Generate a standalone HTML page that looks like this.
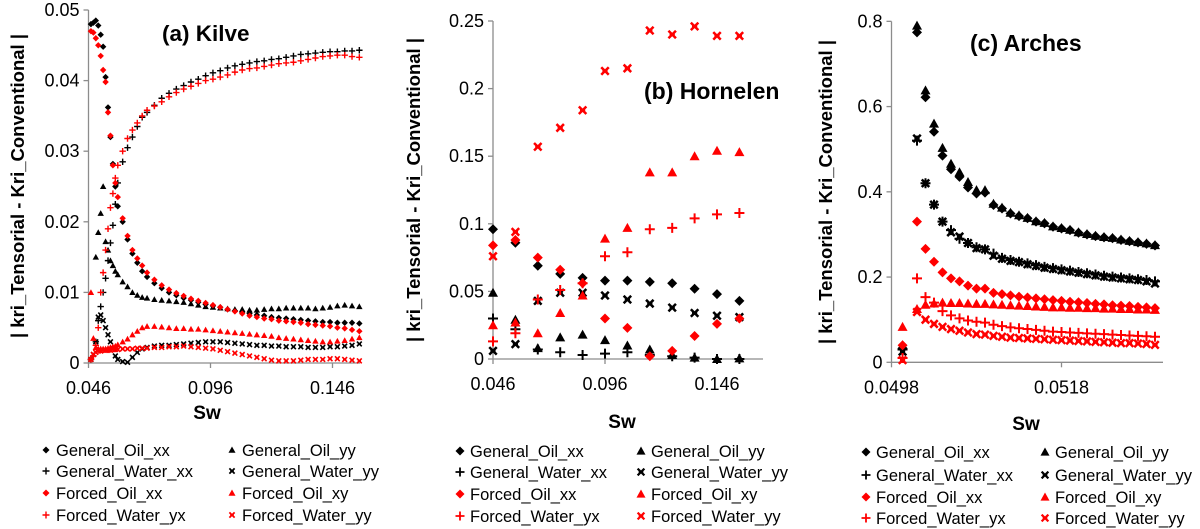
<!DOCTYPE html>
<html><head><meta charset="utf-8"><style>
html,body{margin:0;padding:0;background:#fff}
svg{display:block;font-family:"Liberation Sans",Arial,sans-serif}
</style></head><body>
<svg id="fig" width="1200" height="529" viewBox="0 0 1200 529" xmlns="http://www.w3.org/2000/svg">
<g id="pa"></g>
<g id="pb"></g>
<g id="pc"></g>
</svg>
<script>
// ---------- Panel (a) Kilve data ----------
const kilveSw = [0.047,0.048,0.049,0.050,0.051,0.052,0.053,0.054,0.055,0.056,0.057,0.058,0.060,0.062,0.064,0.066,0.068,0.070,0.073,0.076,0.079,0.082,0.085,0.088,0.091,0.094,0.097,0.100,0.103,0.106,0.109,0.112,0.115,0.118,0.121,0.124,0.127,0.130,0.133,0.136,0.139,0.142,0.145,0.148,0.151,0.154,0.157];
const kilveGOxx = [.048,.0482,.0485,.0478,.0465,.0448,.0405,.0362,.032,.0282,.025,.0222,.020,.0175,.0155,.0142,.013,.0122,.0113,.0106,.010,.0096,.0092,.0089,.0086,.0083,.0081,.0079,.0076,.0074,.0072,.007,.0068,.0067,.0065,.0064,.0063,.0062,.0061,.006,.0059,.0058,.0058,.0057,.0057,.0057,.0056];
const kilveGOyy = [null,null,.015,.0185,.0212,.025,.0172,.016,.0145,.0138,.013,.0125,.0115,.0108,.010,.0096,.0093,.0092,.009,.0089,.0088,.0087,.0086,.0084,.0082,.008,.0079,.0078,.0077,.0076,.0076,.0075,.0075,.0076,.0077,.0077,.0078,.0078,.0078,.0078,.0077,.0078,.0079,.0081,.0082,.0081,.008];
const kilveGWxx = [.0005,.001,.003,.006,.008,.010,.012,.0145,.017,.0195,.0225,.0255,.0285,.0305,.032,.0335,.0348,.0355,.0365,.0375,.0382,.0388,.0393,.0398,.0402,.0407,.0411,.0414,.0418,.0421,.0423,.0425,.0427,.0428,.043,.0431,.0433,.0435,.0437,.0438,.0439,.044,.0441,.0441,.0442,.0442,.0443];
const kilveGWyy = [.0005,.0012,.003,.0065,.0068,.006,.005,.004,.003,.002,.001,.0005,.0002,.0001,.0008,.0015,.002,.0022,.0024,.0025,.0025,.0026,.0027,.0028,.0029,.003,.003,.003,.0029,.0028,.0027,.0026,.0025,.0025,.0024,.0024,.0023,.0023,.0023,.0022,.0022,.0022,.0023,.0023,.0024,.0025,.0027];
const kilveFOxx = [.047,.0468,.046,.045,.0435,.0415,.0398,.0355,.0322,.028,.0255,.0235,.0205,.018,.016,.0148,.0138,.0128,.0118,.011,.0104,.0099,.0095,.0091,.0088,.0085,.0082,.0079,.0076,.0073,.007,.0067,.0065,.0063,.0062,.006,.0059,.0058,.0057,.0055,.0054,.0053,.0052,.005,.0049,.0047,.0045];
const kilveFOxy = [.010,.0035,.0022,.002,.002,.002,.002,.0021,.0022,.0023,.0024,.0026,.003,.0034,.004,.0045,.005,.0052,.0052,.0051,.005,.0049,.0049,.0048,.0048,.0047,.0046,.0045,.0044,.0043,.0042,.0041,.004,.0039,.0038,.0036,.0035,.0034,.0033,.0032,.0031,.003,.003,.0031,.0032,.0034,.0036];
const kilveFWyx = [.0005,.001,.0025,.005,.010,.0128,.016,.019,.022,.024,.0262,.028,.030,.0318,.033,.034,.035,.0358,.0364,.037,.0377,.0383,.0388,.0392,.0396,.040,.0402,.0405,.0408,.0412,.0415,.0417,.0418,.042,.0422,.0424,.0425,.0426,.0428,.043,.0432,.0434,.0435,.0436,.0436,.0434,.0433];
const kilveFWyy = [.0005,.0012,.0015,.0017,.0017,.0018,.0018,.0018,.0018,.0019,.0019,.0019,.002,.002,.002,.0021,.0021,.0021,.0022,.0022,.0023,.0023,.0024,.0023,.0022,.0021,.002,.0018,.0016,.0014,.0012,.001,.0008,.0006,.0004,.0003,.0003,.0003,.0004,.0005,.0005,.0005,.0006,.0006,.0005,.0004,.0003];
const kilveXTicks = [0.046,0.096,0.146];
const kilveYTicks = [0,0.01,0.02,0.03,0.04,0.05];
const kilveYLabels = ["0","0.01","0.02","0.03","0.04","0.05"];

// ---------- Panel (b) Hornelen data ----------
const hornSw = [0.046,0.056,0.066,0.076,0.086,0.096,0.106,0.116,0.126,0.136,0.146,0.156];
const hornGOxx = [.096,.086,.069,.063,.060,.058,.058,.057,.056,.052,.048,.043];
const hornGOyy = [.049,.029,.008,.016,.018,.014,.010,.007,.003,.001,.000,.0005];
const hornGWxx = [.030,.022,.007,.005,.003,.004,.005,.003,.002,.001,.000,.000];
const hornGWyy = [.006,.011,.043,.049,.049,.047,.044,.041,.038,.034,.032,.031];
const hornFOxx = [.084,.088,.075,.066,.056,.030,.023,.002,.006,.017,.026,.030];
const hornFOxy = [.025,.027,.019,.034,.047,.089,.097,.138,.138,.150,.154,.153];
const hornFWyx = [.013,.019,.044,.051,.056,.076,.079,.096,.097,.104,.107,.108];
const hornFWyy = [.076,.094,.157,.171,.184,.213,.215,.243,.240,.246,.239,.239];
const hornXTicks = [0.046,0.096,0.146];
const hornYTicks = [0,0.05,0.1,0.15,0.2,0.25];
const hornYLabels = ["0","0.05","0.1","0.15","0.2","0.25"];

// ---------- Panel (c) Arches data ----------
const archSw = [0.04993,0.0501,0.0502,0.0503,0.0504,0.0505,0.0506,0.0507,0.0508,0.0509,0.0510,0.0511,0.0512,0.0513,0.0514,0.0515,0.0516,0.0517,0.0518,0.0519,0.0520,0.0521,0.0522,0.0523,0.0524,0.0525,0.0526,0.0527,0.0528,0.0529];
const archGOxx = [.033,.774,.622,.541,.485,.453,.435,.410,.396,.398,.369,.361,.349,.343,.338,.330,.326,.318,.314,.310,.304,.300,.296,.293,.291,.287,.284,.281,.278,.274];
const archGOyy = [.040,.790,.638,.560,.503,.466,.446,.423,.404,.404,.372,.363,.351,.345,.339,.331,.327,.319,.315,.311,.305,.301,.297,.294,.292,.288,.285,.282,.279,.275];
const archGWxx = [.030,.520,.420,.370,.330,.310,.290,.280,.270,.265,.255,.245,.240,.236,.232,.228,.224,.221,.218,.215,.212,.209,.206,.203,.201,.199,.197,.195,.193,.190];
const archGWyy = [.025,.525,.420,.370,.330,.305,.295,.280,.268,.265,.250,.243,.238,.235,.230,.226,.222,.219,.216,.213,.210,.207,.204,.201,.199,.197,.195,.193,.190,.185];
const archFOxx = [.040,.330,.266,.236,.211,.197,.190,.180,.173,.173,.163,.160,.157,.154,.152,.150,.148,.146,.144,.142,.141,.139,.137,.136,.134,.133,.132,.130,.129,.127];
const archFOxy = [.083,.125,.135,.138,.140,.139,.139,.138,.137,.137,.136,.135,.134,.133,.132,.131,.130,.129,.129,.128,.128,.127,.127,.126,.126,.125,.125,.124,.124,.123];
const archFWyx = [.010,.197,.153,.140,.120,.110,.103,.098,.095,.093,.088,.085,.082,.080,.078,.076,.074,.072,.071,.070,.069,.068,.067,.066,.065,.064,.063,.062,.061,.060];
const archFWyy = [.005,.118,.100,.090,.083,.078,.074,.070,.066,.065,.062,.060,.058,.057,.056,.055,.054,.053,.052,.051,.050,.049,.048,.047,.046,.045,.045,.044,.043,.041];
const archXTicks = [0.0498,0.0518];
const archXLabels = ["0.0498","0.0518"];
const archYTicks = [0,0.2,0.4,0.6,0.8];
const archYLabels = ["0","0.2","0.4","0.6","0.8"];

const seriesNames = ["General_Oil_xx","General_Oil_yy","General_Water_xx","General_Water_yy","Forced_Oil_xx","Forced_Oil_xy","Forced_Water_yx","Forced_Water_yy"];
const NS = "http://www.w3.org/2000/svg";
const RED = "#ff0000", BLK = "#000000";
const styles = [["diamond",BLK],["triangle",BLK],["plus",BLK],["x",BLK],["diamond",RED],["triangle",RED],["plus",RED],["x",RED]];

function el(tag, attrs, parent){
  const e = document.createElementNS(NS, tag);
  for (const k in attrs) e.setAttribute(k, attrs[k]);
  parent.appendChild(e);
  return e;
}
function marker(g, shape, cx, cy, s, color, name){
  let m;
  if (shape === "diamond") {
    m = el("polygon", {points:`${cx},${cy-s} ${cx+s},${cy} ${cx},${cy+s} ${cx-s},${cy}`, fill:color}, g);
  } else if (shape === "triangle") {
    m = el("polygon", {points:`${cx},${cy-s} ${cx+s},${cy+s*0.8} ${cx-s},${cy+s*0.8}`, fill:color}, g);
  } else if (shape === "plus") {
    m = el("path", {d:`M${cx-s} ${cy}H${cx+s}M${cx} ${cy-s}V${cy+s}`, stroke:color, "stroke-width":Math.max(1.4,s*0.4), fill:"none"}, g);
  } else {
    const t = s*0.75;
    m = el("path", {d:`M${cx-t} ${cy-t}L${cx+t} ${cy+t}M${cx+t} ${cy-t}L${cx-t} ${cy+t}M${cx-t*0.7} ${cy}H${cx+t*0.7}`, stroke:color, "stroke-width":Math.max(1.6,s*0.5), fill:"none"}, g);
  }
  
  
  return m;
}
function text(g, x, y, str, opts, name){
  const t = el("text", Object.assign({x:x, y:y, fill:"#000"}, opts), g);
  t.textContent = str;
  
  
  return t;
}

function panel(cfg){
  const g = document.getElementById(cfg.id);
  const sx = v => cfg.x0 + (v - cfg.xmin) * cfg.kx;
  const sy = v => cfg.y0 - v * cfg.ky;
  const ya = el("line", {x1:cfg.x0, y1:sy(cfg.ymax), x2:cfg.x0, y2:cfg.y0, stroke:"#8c8c8c", "stroke-width":1.3}, g);
  
  
  const xa = el("line", {x1:cfg.x0, y1:cfg.y0, x2:cfg.xend, y2:cfg.y0, stroke:"#8c8c8c", "stroke-width":1.3}, g);
  
  
  cfg.yTicks.forEach((v,i) => {
    const tk = el("line", {x1:cfg.x0-5, y1:sy(v), x2:cfg.x0, y2:sy(v), stroke:"#8c8c8c", "stroke-width":1.3}, g);
    
    
    text(g, cfg.x0-9, sy(v)+6, cfg.yLabels[i], {"font-size":18, "text-anchor":"end"}, 'y-tick-label');
  });
  cfg.xTicks.forEach((v,i) => {
    const tk = el("line", {x1:sx(v), y1:cfg.y0, x2:sx(v), y2:cfg.y0+5, stroke:"#8c8c8c", "stroke-width":1.3}, g);
    
    
    text(g, sx(v), cfg.y0+31, cfg.xLabels[i], {"font-size":18, "text-anchor":"middle"}, 'x-tick-label');
  });
  cfg.series.forEach((vals, si) => {
    const sg = el("g", {}, g);
    
    
    vals.forEach((v, i) => {
      if (v === null) return;
      marker(sg, styles[si][0], sx(cfg.sw[i]), sy(v), cfg.ms, styles[si][1], 'data-point');
    });
  });
  text(g, cfg.title[0], cfg.title[1], cfg.title[2], {"font-size":cfg.title[3], "font-weight":"bold"}, 'chart-title');
  text(g, cfg.swPos[0], cfg.swPos[1], "Sw", {"font-size":19, "font-weight":"bold", "text-anchor":"middle"}, 'x-axis-title');
  text(g, 0, 0, "| kri_Tensorial - Kri_Conventional |", {"font-size":18.5, "font-weight":"bold", "text-anchor":"middle", transform:`translate(${cfg.yt[0]},${cfg.yt[1]}) rotate(-90)`}, 'y-axis-title');
  const lg = el("g", {}, g);
  
  
  seriesNames.forEach((n, i) => {
    const col = i % 2, row = Math.floor(i/2);
    const mx = cfg.leg.cols[col], my = cfg.leg.rows[row];
    marker(lg, styles[i][0], mx, my, cfg.leg.ms, styles[i][1], 'legend-marker');
    text(lg, mx + 10, my + 6, n, {"font-size":16.5}, 'legend-entry');
  });
}

panel({id:"pa", x0:88.5, y0:363, xmin:0.046, kx:2440, ky:7060, ymax:0.05, xend:360,
  sw:kilveSw, series:[kilveGOxx,kilveGOyy,kilveGWxx,kilveGWyy,kilveFOxx,kilveFOxy,kilveFWyx,kilveFWyy], ms:3.2,
  xTicks:kilveXTicks, xLabels:["0.046","0.096","0.146"], yTicks:kilveYTicks, yLabels:kilveYLabels,
  title:[162,41,"(a) Kilve",22.5], swPos:[207,419], yt:[24,186],
  leg:{cols:[46,232], rows:[450,471,493,515], ms:3.5}});
panel({id:"pb", x0:493, y0:359, xmin:0.046, kx:2240, ky:1352, ymax:0.25, xend:763,
  sw:hornSw, series:[hornGOxx,hornGOyy,hornGWxx,hornGWyy,hornFOxx,hornFOxy,hornFWyx,hornFWyy], ms:5,
  xTicks:hornXTicks, xLabels:["0.046","0.096","0.146"], yTicks:hornYTicks, yLabels:hornYLabels,
  title:[644,99,"(b) Hornelen",23], swPos:[622,428], yt:[420,190],
  leg:{cols:[460,641], rows:[451,472,494,516], ms:4.5}});
panel({id:"pc", x0:891.5, y0:362.3, xmin:0.0498, kx:85000, ky:426.2, ymax:0.8, xend:1163,
  sw:archSw, series:[archGOxx,archGOyy,archGWxx,archGWyy,archFOxx,archFOxy,archFWyx,archFWyy], ms:5,
  xTicks:archXTicks, xLabels:archXLabels, yTicks:archYTicks, yLabels:archYLabels,
  title:[970,51,"(c) Arches",23], swPos:[1026,430], yt:[832,192],
  leg:{cols:[866,1045], rows:[452,475,497,518], ms:4.5}});
</script>
</body></html>
